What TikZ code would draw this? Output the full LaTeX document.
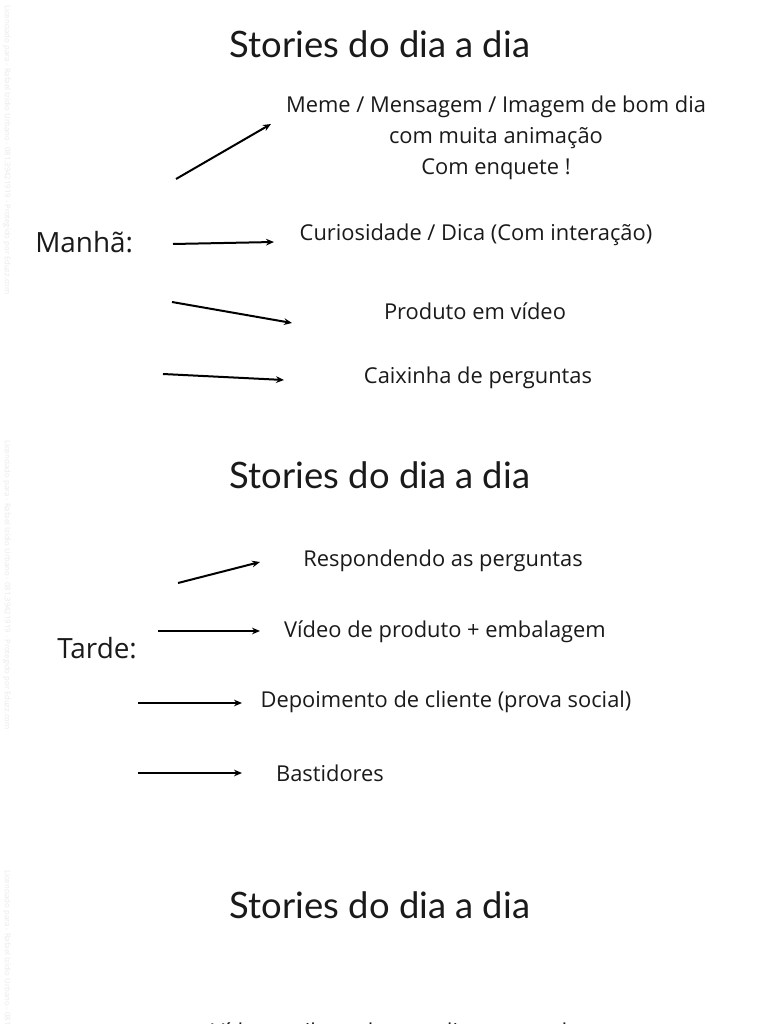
\documentclass[tikz,border=0pt]{standalone}
\usepackage{fontspec}
\setmainfont{Open Sans}
\newfontfamily\titlefont{Lato}
\usetikzlibrary{arrows.meta}
\definecolor{ink}{HTML}{1A1A1A}
\definecolor{wm}{HTML}{EAEAEA}
\tikzset{
  title/.style={font=\titlefont\fontsize{27.3}{30}\selectfont, text=ink, inner sep=0pt},
  item/.style={font=\fontsize{16.4}{23.25}\selectfont, text=ink, inner sep=0pt, align=center},
  period/.style={font=\fontsize{20.9}{24}\selectfont, text=ink, inner sep=0pt, anchor=west},
  arr/.style={line width=1.5pt, -{Stealth[length=6pt,width=5pt]}, black},
  wmark/.style={font=\fontsize{5.8}{6.5}\selectfont, text=wm, rotate=-90, anchor=west, inner sep=0pt}
}
\begin{document}
\begin{tikzpicture}[x=0.75pt,y=-0.75pt]
\useasboundingbox (0,0) rectangle (768,1024);
\clip (0,0) rectangle (768,1024);
\fill[white] (0,0) rectangle (768,1024);
% watermark
\node[wmark] (wm1) at (7,5) {Licenciado para - Rafael Izídio Urbano - 081.39421919 - Protegido por Eduzz.com};
\node[wmark] (wm2) at (7,440) {Licenciado para - Rafael Izídio Urbano - 081.39421919 - Protegido por Eduzz.com};
\node[wmark] (wm3) at (7,870) {Licenciado para - Rafael Izídio Urbano - 081.39421919 - Protegido por Eduzz.com};
% titles
\node[title] (t1) at (380,44) {Stories do dia a dia};
\node[title] (t2) at (380,475) {Stories do dia a dia};
\node[title] (t3) at (380,905) {Stories do dia a dia};
% Manha
\node[period] (manha) at (35,242) {Manhã:};
\node[item] (m1) at (496,138) {Meme / Mensagem / Imagem de bom dia\\com muita animação\\Com enquete !};
\node[item] (m2) at (476,235) {Curiosidade / Dica (Com interação)};
\node[item] (m3) at (475,311) {Produto em vídeo};
\node[item] (m4) at (478,378) {Caixinha de perguntas};
\coordinate (a1s) at (176,179); \coordinate (a1e) at (271,124);
\coordinate (a2s) at (173,244); \coordinate (a2e) at (274,242);
\coordinate (a3s) at (172,302); \coordinate (a3e) at (292,323);
\coordinate (a4s) at (163,374); \coordinate (a4e) at (284,380);
\draw[arr] (a1s) -- (a1e);
\draw[arr] (a2s) -- (a2e);
\draw[arr] (a3s) -- (a3e);
\draw[arr] (a4s) -- (a4e);
% Tarde
\node[period] (tarde) at (57,648) {Tarde:};
\node[item] (r1) at (443,561) {Respondendo as perguntas};
\node[item] (r2) at (445,632) {Vídeo de produto + embalagem};
\node[item] (r3) at (446,702) {Depoimento de cliente (prova social)};
\node[item] (r4) at (330,773) {Bastidores};
\coordinate (b1s) at (178,583); \coordinate (b1e) at (260,562);
\coordinate (b2s) at (158,631); \coordinate (b2e) at (260,631);
\coordinate (b3s) at (138,703); \coordinate (b3e) at (242,703);
\coordinate (b4s) at (138,773); \coordinate (b4e) at (242,773);
\draw[arr] (b1s) -- (b1e);
\draw[arr] (b2s) -- (b2e);
\draw[arr] (b3s) -- (b3e);
\draw[arr] (b4s) -- (b4e);
% cut-off line
\node[item] (n1) at (447,1034) {Vídeo estilo reels com dica ou produto em uso};
\end{tikzpicture}
\end{document}
